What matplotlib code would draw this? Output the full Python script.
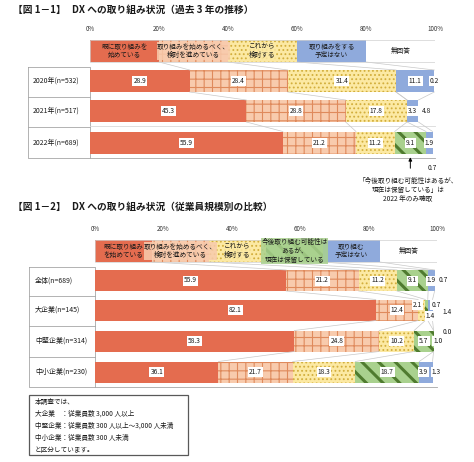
import matplotlib
matplotlib.use("Agg")
import matplotlib.pyplot as plt
import numpy as np
from matplotlib.patches import Rectangle

plt.rcParams["font.family"] = ["Noto Sans CJK JP", "DejaVu Sans"]
plt.rcParams["hatch.linewidth"] = 0.6

W, H = 474, 462

# legend entries (top chart has no "on hold" option)
LEGEND_TOP = ["既に取り組みを\n始めている", "取り組みを始めるべく、\n検討を進めている",
              "これから\n検討する", "取り組みをする\n予定はない", "無回答"]
LEGEND_TOP_IDX = [0, 1, 2, 4, 5]
LEGEND_BOTTOM = ["既に取り組み\nを始めている", "取り組みを始めるべく、\n検討を進めている",
                 "これから\n検討する", "今後取り組む可能性は\nあるが、\n現在は保留している",
                 "取り組む\n予定はない", "無回答"]
LEGEND_BOTTOM_IDX = [0, 1, 2, 3, 4, 5]

# 図1-1 past three years
YEARS = ["2020年(n=532)", "2021年(n=517)", "2022年(n=689)"]
already_y = [28.9, 45.3, 55.9]
planning_y = [28.4, 28.8, 21.2]
from_now_y = [31.4, 17.8, 11.2]
on_hold_y = [None, None, 9.1]
no_plan_y = [11.1, 3.3, 1.9]
no_answer_y = [0.2, 4.8, 0.7]

# 図1-2 by company size
SIZES = ["全体(n=689)", "大企業(n=145)", "中堅企業(n=314)", "中小企業(n=230)"]
already_s = [55.9, 82.1, 58.3, 36.1]
planning_s = [21.2, 12.4, 24.8, 21.7]
from_now_s = [11.2, 2.1, 10.2, 18.3]
on_hold_s = [9.1, 0.7, 5.7, 18.7]
no_plan_s = [1.9, 1.4, 0.0, 3.9]
no_answer_s = [0.7, 1.4, 1.0, 1.3]

# face, hatch, hatch colour, hatch width
STYLES = [
    ("#E46C4F", None, None, 0.6),
    ("#F8CBAD", "++", "#DF8A5C", 0.8),
    ("#FCE9A3", "....", "#D2AE3C", 0.8),
    ("#A9D18E", "\\\\", "#4F7B2F", 2.2),
    ("#8FAADC", None, None, 0.6),
    ("white", None, None, 0.6),
]
GRAY = "#A6A6A6"
TXT = "#1a1a1a"


def px_axes(fig, x0, x1, y0, y1):
    ax = fig.add_axes([x0 / W, 1 - y1 / H, (x1 - x0) / W, (y1 - y0) / H])
    ax.set_xlim(0, 100)
    ax.set_ylim(y1, y0)
    ax.set_facecolor("none")
    for s in ax.spines.values():
        s.set_visible(False)
    ax.xaxis.tick_top()
    ax.set_xticks(range(0, 101, 20))
    ax.set_xticklabels([f"{v}%" for v in range(0, 101, 20)])
    ax.tick_params(axis="x", length=0, labelsize=4.5, pad=5, colors="#333333")
    ax.set_yticks([])
    return ax


def styled_barh(ax, y, w, left, h, j):
    face, hatch, hc, hlw = STYLES[j]
    bars = ax.barh(y, w, left=left, height=h, color=face,
                   edgecolor=hc if hc else face, linewidth=0, hatch=hatch)
    for b in bars:
        if hasattr(b, "set_hatch_linewidth"):
            b.set_hatch_linewidth(hlw)
    return bars


def draw_chart(ax, series, centers, bar_h, leg_idx, leg_txt, leg_y, leg_h, offsets):
    raw = np.array([[np.nan if v is None else v for v in s] for s in series]).T
    vals = np.nan_to_num(raw)
    cum = np.cumsum(vals, axis=1)
    lefts = cum - vals

    for j in range(vals.shape[1]):
        styled_barh(ax, centers, vals[:, j], lefts[:, j], bar_h, j)

    # data labels
    for i in range(vals.shape[0]):
        for j in range(vals.shape[1]):
            if np.isnan(raw[i, j]):
                continue
            dx, dy = offsets.get((i, j), (0, 0))
            ax.text(lefts[i, j] + vals[i, j] / 2 + dx, centers[i] + dy,
                    f"{raw[i, j]:.1f}", ha="center", va="center", fontsize=4.8,
                    color=TXT, zorder=5,
                    bbox=dict(boxstyle="square,pad=0.15", fc="white", ec="none"))

    # legend row drawn as a bar
    n = len(leg_idx)
    lw_ = 100 / n
    for k, j in enumerate(leg_idx):
        styled_barh(ax, [leg_y], [lw_], [k * lw_], leg_h, j)
        ax.text(k * lw_ + lw_ / 2, leg_y, leg_txt[k], ha="center", va="center",
                fontsize=4.8, color=TXT, linespacing=1.15, zorder=5,
                bbox=dict(boxstyle="square,pad=0.05", fc=STYLES[j][0], ec="none", alpha=0.85))
    ax.add_patch(Rectangle((0, leg_y - leg_h / 2), 100, leg_h, fill=False,
                           ec="#D0D0D0", lw=0.5, zorder=4))

    # series lines: legend -> first bar, then bar -> bar
    leg_cum = [(k + 1) * lw_ for k in range(n - 1)]
    for k in range(n - 1):
        j = leg_idx[k]
        ax.plot([leg_cum[k], cum[0, j]], [leg_y + leg_h / 2, centers[0] - bar_h / 2],
                color="#C8C8C8", lw=0.5, zorder=1)
    for i in range(vals.shape[0] - 1):
        for j in range(vals.shape[1] - 1):
            ax.plot([cum[i, j], cum[i + 1, j]],
                    [centers[i] + bar_h / 2, centers[i + 1] - bar_h / 2],
                    color="#C8C8C8", lw=0.5, zorder=1)

    ax.axvline(100, color=GRAY, lw=0.6, zorder=3)
    return cum, lefts, vals


fig = plt.figure(figsize=(W / 100, H / 100), dpi=100)
fig.patch.set_facecolor("white")

ov = fig.add_axes([0, 0, 1, 1])
ov.set_xlim(0, W)
ov.set_ylim(H, 0)
ov.axis("off")

# ---- titles
for y, sub in [(10, "DX への取り組み状況（過去 3 年の推移）"),
               (207, "DX への取り組み状況（従業員規模別の比較）")]:
    fig_no = "【図 1－1】" if y < 100 else "【図 1－2】"
    ov.text(13, y, fig_no, fontsize=7, fontweight="bold", va="center", ha="left", color=TXT)
    ov.text(72, y, sub, fontsize=7, fontweight="bold", va="center", ha="left", color=TXT)

# ---- 図1-1
ax1 = px_axes(fig, 90, 435, 40, 158)
centers1 = [81, 111, 142.5]
off1 = {(2, 5): (-0.4, 25)}
cum1, left1, val1 = draw_chart(
    ax1, [already_y, planning_y, from_now_y, on_hold_y, no_plan_y, no_answer_y],
    centers1, 22, LEGEND_TOP_IDX, LEGEND_TOP, 51, 22, off1)
ax1.annotate("", xy=(left1[2, 3] + val1[2, 3] / 2, 154.5),
             xytext=(left1[2, 3] + val1[2, 3] / 2, 171),
             arrowprops=dict(arrowstyle="-|>", color="black", lw=0.7, mutation_scale=5),
             annotation_clip=False)
ov.text(408, 190, "「今後取り組む可能性はあるが、\n現在は保留している」は\n2022 年のみ聴取",
        ha="center", va="center", fontsize=4.8, linespacing=1.2, color=TXT)

# table of row labels
ov.plot([28, 90, 90, 28, 28], [67, 67, 158, 158, 67], color=GRAY, lw=0.6)
for yy in (97, 127):
    ov.plot([28, 90], [yy, yy], color=GRAY, lw=0.6)
ov.plot([90, 435], [158, 158], color=GRAY, lw=0.6)
ov.plot([90, 435], [126, 126], color="#D9D9D9", lw=0.6)
for lab, c in zip(YEARS, centers1):
    ov.text(33, c, lab, fontsize=5, va="center", ha="left", color=TXT)

# ---- 図1-2
ax2 = px_axes(fig, 95, 437, 240, 387)
centers2 = [280.5, 310, 341, 372]
off2 = {
    (0, 5): (2.1, 0),
    (1, 2): (-1.2, -5), (1, 3): (2.8, -5), (1, 4): (0, 6), (1, 5): (3.5, 2),
    (2, 4): (3.9, -9), (2, 5): (0.8, 0),
    (3, 4): (-0.8, 0), (3, 5): (0.4, 0),
}
draw_chart(ax2, [already_s, planning_s, from_now_s, on_hold_s, no_plan_s, no_answer_s],
           centers2, 21, LEGEND_BOTTOM_IDX, LEGEND_BOTTOM, 251, 22, off2)

ov.plot([29, 95, 95, 29, 29], [267, 267, 387, 387, 267], color=GRAY, lw=0.6)
for yy in (296, 326, 357):
    ov.plot([29, 95], [yy, yy], color=GRAY, lw=0.6)
ov.plot([95, 437], [387, 387], color=GRAY, lw=0.6)
for lab, c in zip(SIZES, centers2):
    ov.text(35, c, lab, fontsize=5, va="center", ha="left", color=TXT)

# ---- footnote
ov.add_patch(Rectangle((29, 395), 159, 60, fill=False, ec="#595959", lw=0.9))
ov.text(35, 398, "本調査では、\n大企業　：従業員数 3,000 人以上\n"
        "中堅企業：従業員数 300 人以上～3,000 人未満\n中小企業：従業員数 300 人未満\n"
        "と区分しています。",
        fontsize=4.8, va="top", ha="left", linespacing=1.65, color=TXT)

fig.savefig("out.png", dpi=100, facecolor="white")
